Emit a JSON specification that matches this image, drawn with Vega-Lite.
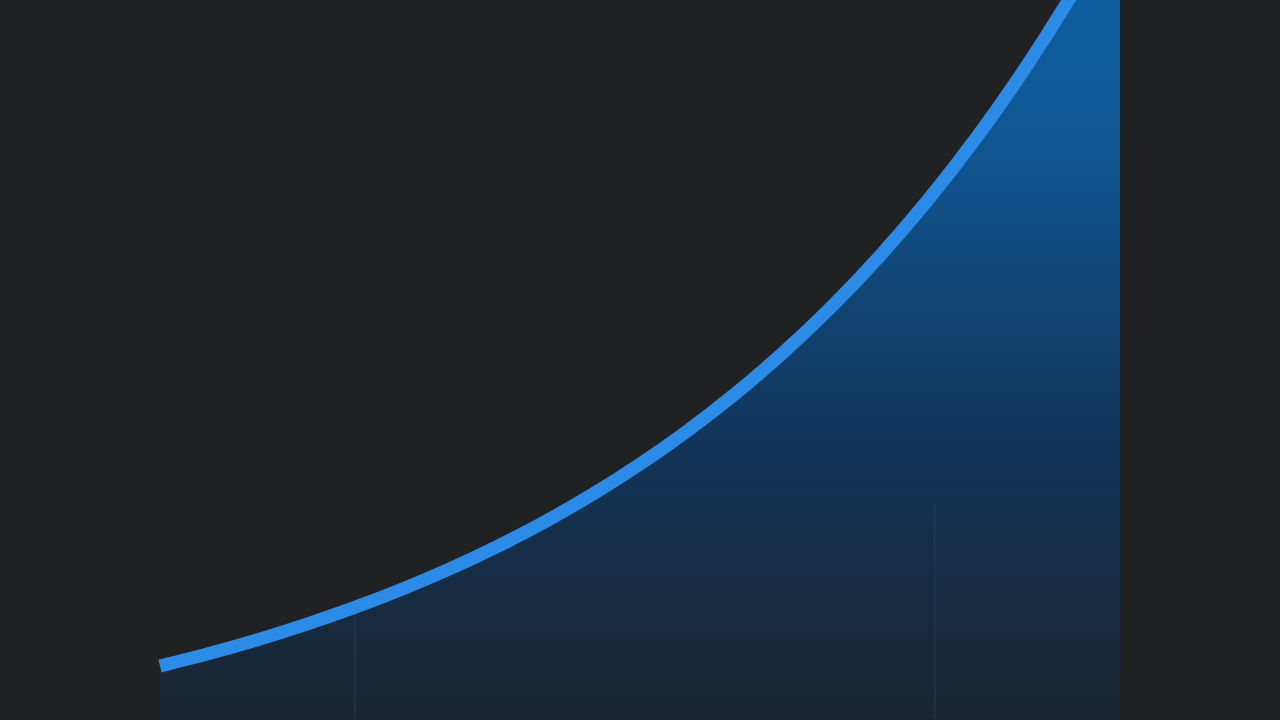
{
  "$schema": "https://vega.github.io/schema/vega-lite/v6.json",
  "width": 1280,
  "height": 720,
  "autosize": {"type": "fit", "contains": "padding"},
  "padding": 0,
  "background": "#202123",
  "config": {"view": {"stroke": null}},
  "data": {
    "values": [
      {"t": 0, "v": 7.361},
      {"t": 5, "v": 9.073},
      {"t": 10, "v": 10.966},
      {"t": 15, "v": 13.06},
      {"t": 20, "v": 15.376},
      {"t": 25, "v": 17.937},
      {"t": 30, "v": 20.77},
      {"t": 35, "v": 23.904},
      {"t": 40, "v": 27.37},
      {"t": 45, "v": 31.204},
      {"t": 50, "v": 35.444},
      {"t": 55, "v": 40.134},
      {"t": 60, "v": 45.322},
      {"t": 65, "v": 51.059},
      {"t": 70, "v": 57.405},
      {"t": 75, "v": 64.424},
      {"t": 80, "v": 72.187},
      {"t": 85, "v": 80.774},
      {"t": 90, "v": 90.271},
      {"t": 95, "v": 100.775},
      {"t": 100, "v": 112.393}
    ]
  },
  "encoding": {
    "x": {"field": "t", "type": "quantitative", "axis": null, "scale": {"domain": [-16.667, 116.667], "nice": false, "zero": false}},
    "y": {"field": "v", "type": "quantitative", "axis": null, "scale": {"domain": [0, 100], "nice": false, "zero": false}}
  },
  "layer": [
    {
      "mark": {
        "type": "area",
        "interpolate": "monotone",
        "clip": true,
        "color": {
          "gradient": "linear",
          "x1": 0, "y1": 0, "x2": 0, "y2": 1,
          "stops": [
            {"offset": 0, "color": "#1163a8"},
            {"offset": 0.3, "color": "#0f5590"},
            {"offset": 0.65, "color": "#12355a"},
            {"offset": 1, "color": "#1a2430"}
          ]
        }
      },
      "encoding": {}
    },
    {
      "data": {"values": [{"t": 20.3, "v": 15.0}, {"t": 80.7, "v": 30.0}]},
      "mark": {"type": "rule", "stroke": "#3a5470", "strokeWidth": 1.5, "opacity": 0.3},
      "encoding": {"y2": {"datum": 0}}
    },
    {
      "mark": {"type": "line", "interpolate": "monotone", "clip": true, "color": "#2b8be6", "strokeWidth": 13, "strokeCap": "butt"},
      "encoding": {}
    }
  ]
}
